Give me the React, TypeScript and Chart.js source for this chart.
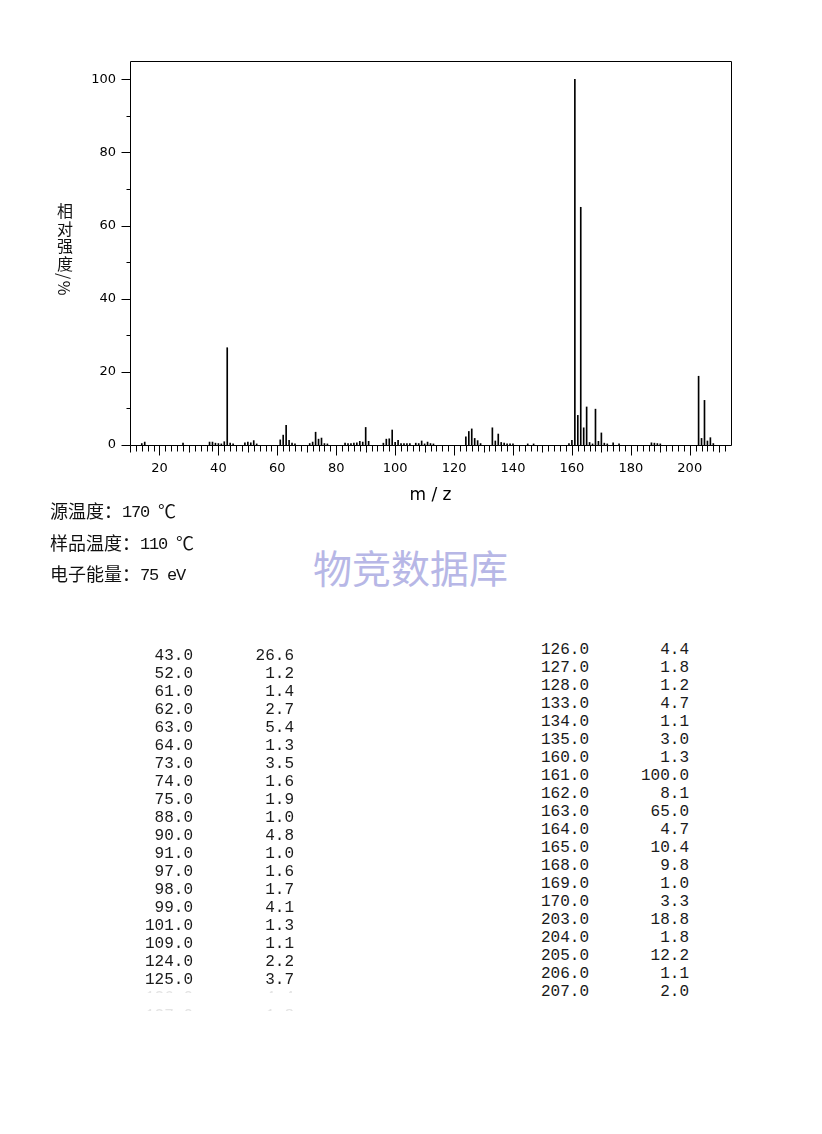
import React, { useEffect, useRef } from "react";
import { Chart, registerables } from "chart.js";

Chart.register(...registerables);

// m/z values of the spectrum peaks
const mzValues = [
  14, 15, 28, 37, 38, 39, 40, 41, 42, 43, 44, 45, 49, 50, 51, 52, 53,
  61, 62, 63, 64, 65, 66, 71, 72, 73, 74, 75, 76, 77,
  83, 84, 85, 86, 87, 88, 89, 90, 91, 96, 97, 98, 99, 100, 101, 102, 103, 104, 105,
  107, 108, 109, 110, 111, 112, 113, 124, 125, 126, 127, 128, 129,
  133, 134, 135, 136, 137, 138, 139, 140, 145, 147,
  159, 160, 161, 162, 163, 164, 165, 166, 167, 168, 169, 170, 171, 172, 174, 176,
  187, 188, 189, 190, 203, 204, 205, 206, 207, 208,
];
// relative intensities (%)
const intensities = [
  0.4, 0.8, 0.5, 0.8, 0.8, 0.5, 0.4, 0.3, 0.9, 26.6, 0.5, 0.3, 0.6, 0.8, 0.6, 1.2, 0.3,
  1.4, 2.7, 5.4, 1.3, 0.5, 0.3, 0.4, 0.8, 3.5, 1.6, 1.9, 0.4, 0.3,
  0.5, 0.4, 0.4, 0.5, 0.6, 1.0, 0.8, 4.8, 1.0, 0.5, 1.6, 1.7, 4.1, 0.7, 1.3, 0.4, 0.4, 0.4, 0.4,
  0.5, 0.4, 1.1, 0.3, 0.8, 0.4, 0.3, 2.2, 3.7, 4.4, 1.8, 1.2, 0.4,
  4.7, 1.1, 3.0, 0.7, 0.5, 0.3, 0.3, 0.3, 0.3, 0.3,
  0.4, 1.3, 100.0, 8.1, 65.0, 4.7, 10.4, 0.7, 0.3, 9.8, 1.0, 3.3, 0.5, 0.3, 0.6, 0.3,
  0.6, 0.5, 0.4, 0.3, 18.8, 1.8, 12.2, 1.1, 2.0, 0.4,
];

const xTickLabels = [20, 40, 60, 80, 100, 120, 140, 160, 180, 200];
const yTickLabels = [0, 20, 40, 60, 80, 100];

const infoLabels = ["源温度：", "样品温度：", "电子能量："];
const infoValues = ["170 ", "110 ", "75 eV"];
const infoUnits = ["℃", "℃", ""];

const CJK = '"Noto Sans CJK SC", sans-serif';
const MONO = '"Liberation Mono", "DejaVu Sans Mono", monospace';

export default function App() {
  const ref = useRef<HTMLCanvasElement>(null);

  useEffect(() => {
    const canvas = ref.current;
    if (!canvas) return;
    const points = mzValues.map((x, i) => ({ x, y: intensities[i] }));

    const framePlugin = {
      id: "frameTicks",
      afterDraw(chart: any) {
        const { ctx, chartArea: a, scales } = chart;
        const xs = scales.x;
        const ys = scales.y;
        ctx.save();
        ctx.strokeStyle = "#000";
        ctx.lineWidth = 1;
        ctx.beginPath();
        const L = Math.round(a.left) + 0.5;
        const R = Math.round(a.right) + 0.5;
        const T = Math.round(a.top) + 0.5;
        const B = Math.round(a.bottom) + 0.5;
        ctx.moveTo(L, T);
        ctx.lineTo(R, T);
        ctx.lineTo(R, B);
        ctx.lineTo(L, B);
        ctx.closePath();
        // x ticks
        for (let v = 10; v <= 212; v += 2) {
          const len = v % 20 === 0 ? 10 : v % 10 === 0 ? 7 : 6;
          const px = Math.round(xs.getPixelForValue(v)) + 0.5;
          ctx.moveTo(px, B);
          ctx.lineTo(px, B + len);
        }
        // y ticks
        for (let v = 0; v <= 100; v += 10) {
          const len = v % 20 === 0 ? 9 : 4;
          const py = Math.round(ys.getPixelForValue(v)) + 0.5;
          ctx.moveTo(L - len, py);
          ctx.lineTo(L, py);
        }
        ctx.stroke();
        ctx.restore();
      },
    };

    const chart = new Chart(canvas, {
      type: "bar",
      data: {
        datasets: [
          {
            data: points as any,
            backgroundColor: "#000",
            borderWidth: 0,
            barThickness: 1,
          },
        ],
      },
      options: {
        animation: false,
        responsive: false,
        devicePixelRatio: 1,
        layout: { padding: { left: 0, top: 61, right: 91, bottom: 0 } },
        plugins: {
          legend: { display: false },
          tooltip: { enabled: false },
        },
        scales: {
          x: {
            type: "linear",
            min: 10,
            max: 214,
            offset: false,
            grid: { display: false, drawTicks: false },
            border: { display: false },
            afterBuildTicks: (s: any) => {
              s.ticks = xTickLabels.map((v) => ({ value: v }));
            },
            afterFit: (s: any) => {
              s.height = 65;
            },
            ticks: {
              padding: 16,
              color: "#000",
              maxRotation: 0,
              autoSkip: false,
              font: { family: "DejaVu Sans", size: 13 },
            },
            title: {
              display: true,
              text: "m / z",
              color: "#000",
              font: { family: "DejaVu Sans", size: 17 },
              padding: { top: 0, bottom: 4 },
            },
          },
          y: {
            type: "linear",
            min: 0,
            max: 105,
            grid: { display: false, drawTicks: false },
            border: { display: false },
            afterBuildTicks: (s: any) => {
              s.ticks = yTickLabels.map((v) => ({ value: v }));
            },
            afterFit: (s: any) => {
              s.width = 130;
            },
            ticks: {
              padding: 14,
              color: "#000",
              font: { family: "DejaVu Sans", size: 13 },
            },
          },
        },
      } as any,
      plugins: [framePlugin],
    });
    return () => chart.destroy();
  }, []);

  const rows = mzValues
    .map((m, i) => ({ m, v: intensities[i] }))
    .filter((r) => r.v >= 1.0);
  const leftRows = rows.slice(0, 19);
  const rightRows = rows.slice(19);
  const ghostRows = rightRows.slice(0, 2);

  const cellStyle = (left: number, top: number, color = "#1a1a1a"): React.CSSProperties => ({
    position: "absolute",
    left,
    top,
    width: 100,
    textAlign: "right",
    fontFamily: MONO,
    fontSize: 16,
    lineHeight: "18px",
    color,
    whiteSpace: "pre",
  });

  return (
    <div style={{ position: "relative", width: 822, height: 1134, margin: -8, background: "#fff", overflow: "hidden" }}>
      <canvas ref={ref} width={822} height={510} style={{ position: "absolute", left: 0, top: 0, width: 822, height: 510 }} />
      <div
        style={{
          position: "absolute",
          left: 56,
          top: 203,
          writingMode: "vertical-rl",
          fontFamily: CJK,
          fontSize: 16,
          lineHeight: "17px",
          letterSpacing: "1.5px",
          color: "#111",
        }}
      >
        相对强度/%
      </div>
      {infoLabels.map((lab, i) => (
        <div
          key={lab}
          style={{
            position: "absolute",
            left: 50,
            top: 501 + i * 31.5,
            lineHeight: "18px",
            whiteSpace: "pre",
            color: "#111",
          }}
        >
          <span style={{ fontFamily: CJK, fontSize: 18 }}>{lab}</span>
          <span style={{ fontFamily: MONO, fontSize: 17, letterSpacing: "-1.2px", position: "relative", top: -1 }}>
            {infoValues[i]}
          </span>
          <span style={{ fontFamily: CJK, fontSize: 18 }}>{infoUnits[i]}</span>
        </div>
      ))}
      <div
        style={{
          position: "absolute",
          left: 313,
          top: 547,
          fontFamily: CJK,
          fontSize: 39,
          lineHeight: "39px",
          color: "#b7b7e6",
          whiteSpace: "pre",
        }}
      >
        物竞数据库
      </div>
      {leftRows.map((r, i) => (
        <React.Fragment key={"l" + r.m}>
          <div style={cellStyle(93, 647 + i * 18)}>{r.m.toFixed(1)}</div>
          <div style={cellStyle(194, 647 + i * 18)}>{r.v.toFixed(1)}</div>
        </React.Fragment>
      ))}
      {ghostRows.map((r, i) => (
        <div
          key={"g" + r.m}
          style={{ position: "absolute", left: 0, top: 988 + i * 18, width: 400, height: 5, overflow: "hidden" }}
        >
          <div style={cellStyle(93, 1, "#e4e4e4")}>{r.m.toFixed(1)}</div>
          <div style={cellStyle(194, 1, "#e4e4e4")}>{r.v.toFixed(1)}</div>
        </div>
      ))}
      {rightRows.map((r, i) => (
        <React.Fragment key={"r" + r.m}>
          <div style={cellStyle(489, 641 + i * 18)}>{r.m.toFixed(1)}</div>
          <div style={cellStyle(589, 641 + i * 18)}>{r.v.toFixed(1)}</div>
        </React.Fragment>
      ))}
    </div>
  );
}
